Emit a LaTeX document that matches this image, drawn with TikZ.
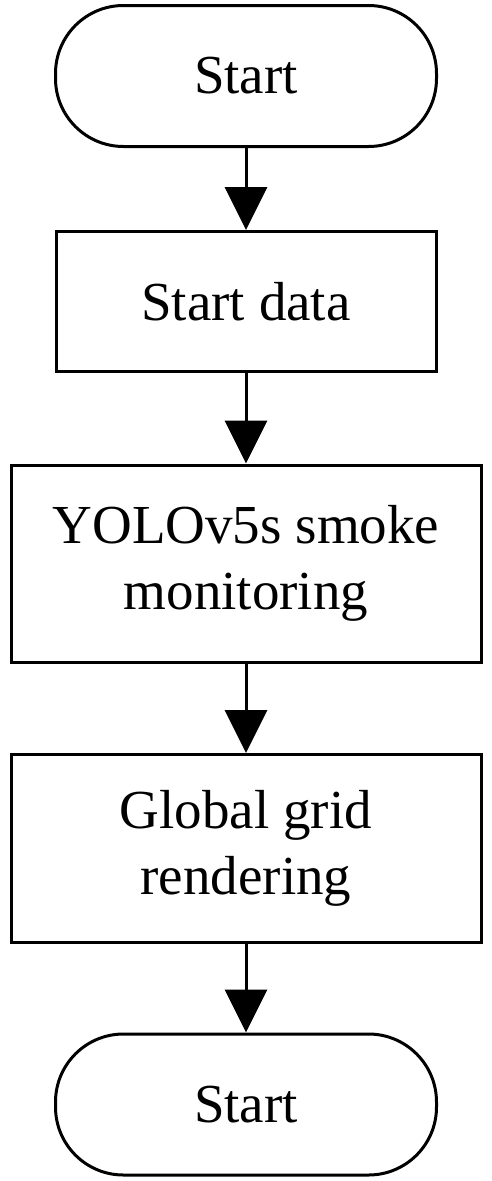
\documentclass[tikz,border=0pt]{standalone}
\usepackage{fontspec}
\setmainfont{Liberation Serif}
\usetikzlibrary{arrows.meta}

\begin{document}
\begin{tikzpicture}[x=1pt,y=-1pt]

\tikzstyle{term} = [rectangle, rounded corners=68pt, minimum width=381pt, minimum height=141pt, draw=black, line width=3pt, inner sep=0pt, font=\fontsize{55}{66}\selectfont]
\tikzstyle{v} = [rectangle, minimum width=470pt, draw=black, line width=3pt, inner sep=0pt, align=center, font=\fontsize{55}{66}\selectfont]
\tikzstyle{e} = [-{Triangle[width=42pt,length=43pt]}, line width=3pt]

\useasboundingbox (0,0) rectangle (492,1181);

\node[term](S)at(246,76){Start};
\node[v, minimum width=380pt, minimum height=140pt](D)at(246,301.5){Start data};
\node[v, minimum height=197pt](Y)at(246,563.5){YOLOv5s smoke\\monitoring};
\node[v, minimum height=188pt](G)at(246,848.5){Global grid\\rendering};
\node[term](E)at(246,1104.5){Start};

\draw[e](S) -- (D);
\draw[e](D) -- (Y);
\draw[e](Y) -- (G);
\draw[e](G) -- (E);

\end{tikzpicture}
\end{document}
